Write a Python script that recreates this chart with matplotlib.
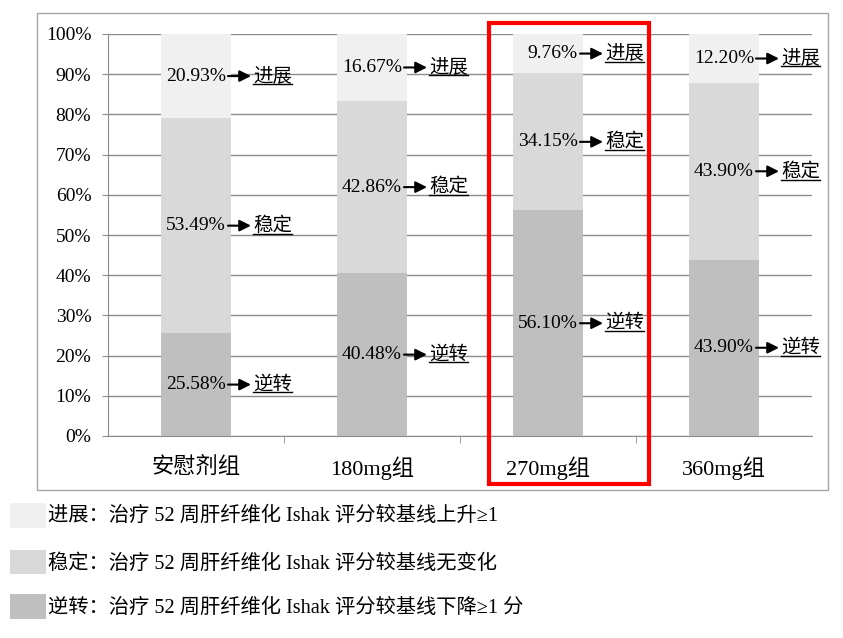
import matplotlib
matplotlib.use("Agg")
import matplotlib.pyplot as plt
from matplotlib.patches import Rectangle
from matplotlib.lines import Line2D

plt.rcParams['font.family'] = ['Liberation Serif', 'Noto Sans CJK SC', 'DejaVu Sans']

categories = ['安慰剂组', '180mg组', '270mg组', '360mg组']
reversal = [25.58, 40.48, 56.10, 43.90]
stable = [53.49, 42.86, 34.15, 43.90]
progress = [20.93, 16.67, 9.76, 12.20]
series_names = ['逆转', '稳定', '进展']
series_colors = ['#bfbfbf', '#d9d9d9', '#f0f0f0']
yticks = [0, 10, 20, 30, 40, 50, 60, 70, 80, 90, 100]
legend_texts = ['进展：治疗 52 周肝纤维化 Ishak 评分较基线上升≥1',
                '稳定：治疗 52 周肝纤维化 Ishak 评分较基线无变化',
                '逆转：治疗 52 周肝纤维化 Ishak 评分较基线下降≥1 分']
legend_colors = ['#f0f0f0', '#d9d9d9', '#bfbfbf']

W, H = 843, 638
fig = plt.figure(figsize=(W / 100, H / 100), dpi=100)

def fx(px):
    return px / W

def fy(py):
    return 1 - py / H

# outer frame
fig.patches.append(Rectangle((fx(37), fy(490)), fx(828) - fx(37), fy(13) - fy(490),
                             transform=fig.transFigure, fill=False, edgecolor='#a6a6a6', lw=1))

ax = fig.add_axes([fx(108), fy(436), fx(812) - fx(108), fy(34) - fy(436)])
x = list(range(len(categories)))
bw = 0.4
series = [reversal, stable, progress]
bottoms = [0.0] * len(categories)
for vals, col in zip(series, series_colors):
    ax.bar(x, vals, width=bw, bottom=bottoms, color=col, zorder=2, linewidth=0)
    bottoms = [b + v for b, v in zip(bottoms, vals)]

ax.set_xlim(-0.5, len(categories) - 0.5)
ax.set_ylim(0, 100)
ax.set_yticks(yticks)
ax.set_yticklabels([f'{t}%' for t in yticks], fontsize=14)
ax.yaxis.grid(True, color='#8c8c8c', lw=1, zorder=0)
ax.set_axisbelow(True)
ax.tick_params(axis='y', length=4, color='#8c8c8c', pad=8)
ax.set_xticks(x)
ax.set_xticklabels(categories, fontsize=16)
ax.set_xticks([i + 0.5 for i in x[:-1]], minor=True)
ax.tick_params(axis='x', which='major', length=0, pad=15)
ax.tick_params(axis='x', which='minor', length=5, color='#8c8c8c', direction='out')
for s in ['top', 'right']:
    ax.spines[s].set_visible(False)
for s in ['left', 'bottom']:
    ax.spines[s].set_color('#8c8c8c')

# annotations
px_unit = (812 - 108) / len(categories)
off_text = 30 / px_unit
off_a0 = 32 / px_unit
off_a1 = 55 / px_unit
off_lab = 57 / px_unit
labels_to_underline = []
bottoms = [0.0] * len(categories)
for vals, name in zip(series, series_names):
    for i, v in enumerate(vals):
        ymid = bottoms[i] + v / 2
        ax.text(i + off_text, ymid, f'{v:.2f}%', ha='right', va='center', fontsize=14, zorder=4)
        ax.annotate('', xy=(i + off_a1, ymid), xytext=(i + off_a0, ymid),
                    arrowprops=dict(arrowstyle='-|>', color='black', lw=1.5,
                                    mutation_scale=17, shrinkA=0, shrinkB=0), zorder=4)
        t = ax.text(i + off_lab, ymid, name, ha='left', va='center', fontsize=14, zorder=4)
        labels_to_underline.append(t)
    bottoms = [b + v for b, v in zip(bottoms, vals)]

# red highlight box
fig.patches.append(Rectangle((fx(489), fy(484)), fx(649) - fx(489), fy(23) - fy(484),
                             transform=fig.transFigure, fill=False, edgecolor='#ff0000', lw=3))

# legend below
sq = [(503, 528), (550, 574), (594, 619)]
ty = [516, 564, 608]
for (y0, y1), yt, txt, col in zip(sq, ty, legend_texts, legend_colors):
    fig.patches.append(Rectangle((fx(10), fy(y1)), fx(46) - fx(10), fy(y0) - fy(y1),
                                 transform=fig.transFigure, color=col, lw=0))
    fig.text(fx(48), fy(yt), txt, ha='left', va='center', fontsize=14.6)

# underlines
fig.canvas.draw()
r = fig.canvas.get_renderer()
for t in labels_to_underline:
    bb = t.get_window_extent(renderer=r)
    yb = bb.y0 + 1
    fig.lines.append(Line2D([bb.x0 / W, bb.x1 / W], [yb / H, yb / H],
                            transform=fig.transFigure, color='black', lw=1))

fig.savefig('out.png', dpi=100)
